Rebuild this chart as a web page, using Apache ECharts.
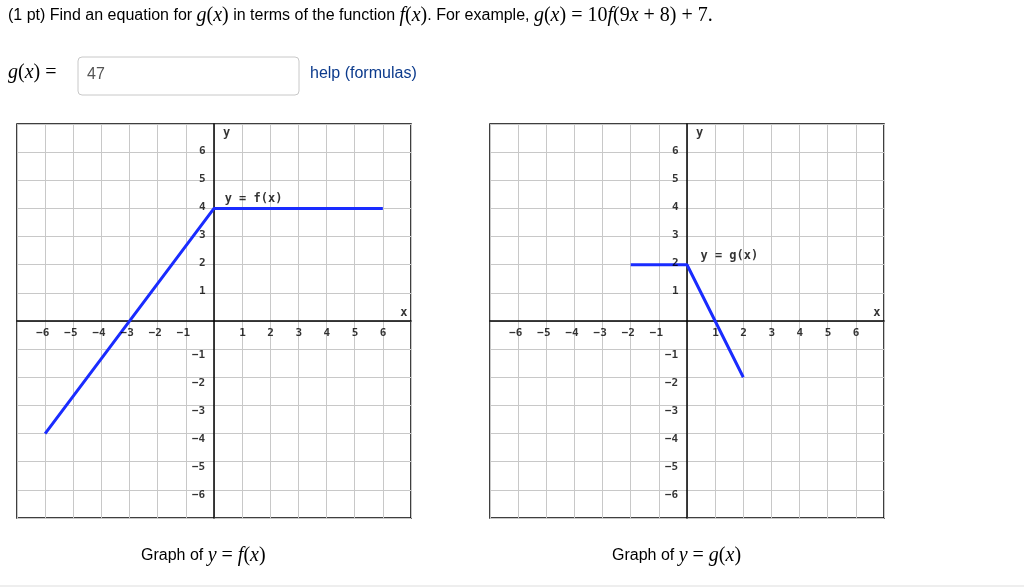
<!DOCTYPE html>
<html><head><meta charset="utf-8">
<script src="https://cdn.jsdelivr.net/npm/echarts@6/dist/echarts.min.js"></script>
<style>html,body{margin:0;background:#fff}#c{width:1024px;height:587px}</style>
</head><body><div id="c"></div>
<script>
// curve points [x, y]
const fPoints = [[-6, -4], [0, 4], [6, 4]];
const gPoints = [[-2, 2], [0, 2], [2, -2]];
const tickValues = [-6, -5, -4, -3, -2, -1, 1, 2, 3, 4, 5, 6];
const answer = "47";

let chart = echarts.init(document.getElementById("c"));

function tickText(v) {
  return v < 0 ? "\u2212" + Math.abs(v) : String(v);
}

function makeAxis(idx) {
  return {
    type: "value",
    gridIndex: idx,
    min: -7,
    max: 7,
    interval: 1,
    axisLine: { onZero: true, lineStyle: { color: "#000", width: 1.5 } },
    axisTick: { show: false },
    splitLine: { show: true, lineStyle: { color: "#c8c8c8", width: 1 } },
    axisLabel: { show: false },
  };
}

const labelStyle = { fontFamily: "DejaVu Sans Mono", fontWeight: "bold", fontSize: 12, color: "#000" };
const tickStyle = { fontFamily: "DejaVu Sans Mono", fontWeight: "bold", fontSize: 11, color: "#000" };

function curveSeries(idx, pts, name, namePos) {
  return [
    {
      type: "line", xAxisIndex: idx, yAxisIndex: idx, data: pts,
      showSymbol: false, lineStyle: { color: "#1a2cff", width: 3 }, z: 5,
    },
    {
      type: "scatter", xAxisIndex: idx, yAxisIndex: idx, symbolSize: 0, z: 6,
      data: [
        { value: namePos, label: { show: true, formatter: name, position: "right", ...labelStyle } },
        { value: [6.75, 0.3], label: { show: true, formatter: "x", position: "inside", ...labelStyle } },
        { value: [0.45, 6.7], label: { show: true, formatter: "y", position: "inside", ...labelStyle } },
      ],
    },
    {
      // x tick labels just below the x axis
      type: "scatter", xAxisIndex: idx, yAxisIndex: idx, symbolSize: 0, z: 6,
      data: tickValues.map((v) => ({
        value: [v, 0],
        label: { show: true, formatter: tickText(v), position: [v < 0 ? -9 : -3, 7], ...tickStyle },
      })),
    },
    {
      // y tick labels left of the y axis
      type: "scatter", xAxisIndex: idx, yAxisIndex: idx, symbolSize: 0, z: 6,
      data: tickValues.map((v) => ({
        value: [0, v],
        label: { show: true, formatter: tickText(v), position: [v < 0 ? -22 : -15, v < 0 ? 0 : -7], ...tickStyle },
      })),
    },
  ];
}

const rich = {
  s: { fontFamily: "Liberation Sans", fontSize: 16, color: "#000" },
  m: { fontFamily: "Liberation Serif", fontStyle: "italic", fontSize: 20, color: "#000" },
  r: { fontFamily: "Liberation Serif", fontSize: 20, color: "#000" },
};

let option = {
  animation: false,
  grid: [
    { left: 17, top: 124, width: 394, height: 394, show: true, borderColor: "#000", borderWidth: 1.5 },
    { left: 490, top: 124, width: 394, height: 394, show: true, borderColor: "#000", borderWidth: 1.5 },
  ],
  xAxis: [makeAxis(0), makeAxis(1)],
  yAxis: [makeAxis(0), makeAxis(1)],
  series: [
    ...curveSeries(0, fPoints, "y = f(x)", [0.2, 4.35]),
    ...curveSeries(1, gPoints, "y = g(x)", [0.3, 2.3]),
  ],
  graphic: [
    {
      type: "text", left: 8, top: 6,
      style: {
        text: "{s|(1 pt) Find an equation for }{m|g}{r|(}{m|x}{r|)}{s| in terms of the function }{m|f}{r|(}{m|x}{r|)}{s|. For example, }{m|g}{r|(}{m|x}{r|) = 10}{m|f}{r|(9}{m|x}{r| + 8) + 7.}",
        rich,
      },
    },
    { type: "text", left: 8, top: 63, style: { text: "{m|g}{r|(}{m|x}{r|) =}", rich } },
    {
      type: "rect", shape: { x: 78, y: 57, width: 221, height: 38, r: 4 },
      style: { fill: "#fff", stroke: "#c8c8c8", lineWidth: 1 },
    },
    { type: "text", left: 87, top: 67, style: { text: answer, fontFamily: "Liberation Sans", fontSize: 16, fill: "#555" } },
    { type: "text", left: 310, top: 66, style: { text: "help (formulas)", fontFamily: "Liberation Sans", fontSize: 16, fill: "#0b3a8c" } },
    { type: "text", left: 141, top: 546, style: { text: "{s|Graph of }{m|y}{r| = }{m|f}{r|(}{m|x}{r|)}", rich } },
    { type: "text", left: 612, top: 546, style: { text: "{s|Graph of }{m|y}{r| = }{m|g}{r|(}{m|x}{r|)}", rich } },
    { type: "line", shape: { x1: 0, y1: 586, x2: 1024, y2: 586 }, style: { stroke: "#ddd" } },
  ],
};
option && chart.setOption(option);
</script></body></html>
